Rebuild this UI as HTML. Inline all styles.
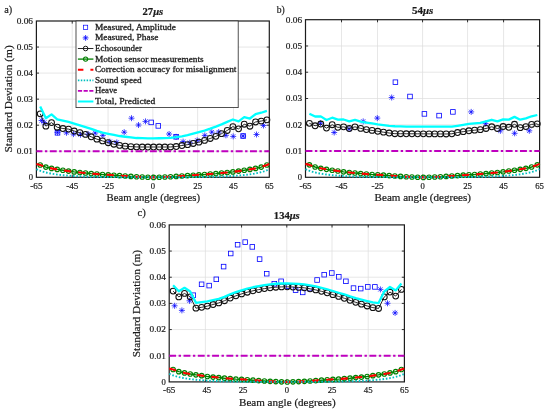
<!DOCTYPE html>
<html><head><meta charset="utf-8"><title>Standard deviation vs beam angle</title>
<style>html,body{margin:0;padding:0;background:#fff}svg{display:block}text{font-family:"Liberation Serif", "DejaVu Serif", serif;fill:#1a1a1a;stroke:#1a1a1a;stroke-width:0.2px}</style>
</head><body>
<svg width="550" height="412" viewBox="0 0 550 412">
<rect width="550" height="412" fill="#fff"/>
<rect x="36.4" y="21" width="232.9" height="156.3" fill="#fff"/>
<g stroke="#dcdcdc" stroke-width="0.7">
<line x1="72.23" y1="21" x2="72.23" y2="177.3"/>
<line x1="108.06" y1="21" x2="108.06" y2="177.3"/>
<line x1="152.85" y1="21" x2="152.85" y2="177.3"/>
<line x1="197.64" y1="21" x2="197.64" y2="177.3"/>
<line x1="233.47" y1="21" x2="233.47" y2="177.3"/>
<line x1="36.4" y1="151.25" x2="269.3" y2="151.25"/>
<line x1="36.4" y1="125.2" x2="269.3" y2="125.2"/>
<line x1="36.4" y1="99.15" x2="269.3" y2="99.15"/>
<line x1="36.4" y1="73.1" x2="269.3" y2="73.1"/>
<line x1="36.4" y1="47.05" x2="269.3" y2="47.05"/>
</g>
<g stroke="#1c1c1c" stroke-width="0.9">
<line x1="72.23" y1="21" x2="72.23" y2="23.6"/>
<line x1="72.23" y1="177.3" x2="72.23" y2="174.7"/>
<line x1="108.06" y1="21" x2="108.06" y2="23.6"/>
<line x1="108.06" y1="177.3" x2="108.06" y2="174.7"/>
<line x1="152.85" y1="21" x2="152.85" y2="23.6"/>
<line x1="152.85" y1="177.3" x2="152.85" y2="174.7"/>
<line x1="197.64" y1="21" x2="197.64" y2="23.6"/>
<line x1="197.64" y1="177.3" x2="197.64" y2="174.7"/>
<line x1="233.47" y1="21" x2="233.47" y2="23.6"/>
<line x1="233.47" y1="177.3" x2="233.47" y2="174.7"/>
<line x1="36.4" y1="151.25" x2="39" y2="151.25"/>
<line x1="269.3" y1="151.25" x2="266.7" y2="151.25"/>
<line x1="36.4" y1="125.2" x2="39" y2="125.2"/>
<line x1="269.3" y1="125.2" x2="266.7" y2="125.2"/>
<line x1="36.4" y1="99.15" x2="39" y2="99.15"/>
<line x1="269.3" y1="99.15" x2="266.7" y2="99.15"/>
<line x1="36.4" y1="73.1" x2="39" y2="73.1"/>
<line x1="269.3" y1="73.1" x2="266.7" y2="73.1"/>
<line x1="36.4" y1="47.05" x2="39" y2="47.05"/>
<line x1="269.3" y1="47.05" x2="266.7" y2="47.05"/>
</g>
<rect x="36.4" y="21" width="232.9" height="156.3" fill="none" stroke="#1c1c1c" stroke-width="1.2"/>
<g fill="none" stroke="#0000ff" stroke-width="0.8">
<rect x="55.2" y="130.5" width="4.6" height="4.6"/>
<rect x="148.9" y="120.1" width="4.6" height="4.6"/>
<rect x="156" y="123.6" width="4.6" height="4.6"/>
<rect x="173.8" y="134.5" width="4.6" height="4.6"/>
<rect x="240.8" y="133.7" width="4.6" height="4.6"/>
</g>
<g fill="none" stroke="#0000ff" stroke-width="0.72">
<path d="M38.6 120.5h6 M41.6 117.5v6 M39.48 118.38l4.24 4.24 M39.48 122.62l4.24 -4.24"/>
<path d="M41.3 122.5h6 M44.3 119.5v6 M42.18 120.38l4.24 4.24 M42.18 124.62l4.24 -4.24"/>
<path d="M54.5 132.4h6 M57.5 129.4v6 M55.38 130.28l4.24 4.24 M55.38 134.52l4.24 -4.24"/>
<path d="M63.5 132.8h6 M66.5 129.8v6 M64.38 130.68l4.24 4.24 M64.38 134.92l4.24 -4.24"/>
<path d="M70.5 134.1h6 M73.5 131.1v6 M71.38 131.98l4.24 4.24 M71.38 136.22l4.24 -4.24"/>
<path d="M77.5 134.7h6 M80.5 131.7v6 M78.38 132.58l4.24 4.24 M78.38 136.82l4.24 -4.24"/>
<path d="M85.2 134.1h6 M88.2 131.1v6 M86.08 131.98l4.24 4.24 M86.08 136.22l4.24 -4.24"/>
<path d="M92.2 133h6 M95.2 130v6 M93.08 130.88l4.24 4.24 M93.08 135.12l4.24 -4.24"/>
<path d="M99.8 135.4h6 M102.8 132.4v6 M100.68 133.28l4.24 4.24 M100.68 137.52l4.24 -4.24"/>
<path d="M106.8 141.7h6 M109.8 138.7v6 M107.68 139.58l4.24 4.24 M107.68 143.82l4.24 -4.24"/>
<path d="M113.8 142.4h6 M116.8 139.4v6 M114.68 140.28l4.24 4.24 M114.68 144.52l4.24 -4.24"/>
<path d="M121.2 132.2h6 M124.2 129.2v6 M122.08 130.08l4.24 4.24 M122.08 134.32l4.24 -4.24"/>
<path d="M128.5 118.2h6 M131.5 115.2v6 M129.38 116.08l4.24 4.24 M129.38 120.32l4.24 -4.24"/>
<path d="M135.5 125h6 M138.5 122v6 M136.38 122.88l4.24 4.24 M136.38 127.12l4.24 -4.24"/>
<path d="M142.5 121.4h6 M145.5 118.4v6 M143.38 119.28l4.24 4.24 M143.38 123.52l4.24 -4.24"/>
<path d="M166.1 134h6 M169.1 131v6 M166.98 131.88l4.24 4.24 M166.98 136.12l4.24 -4.24"/>
<path d="M173.1 136.8h6 M176.1 133.8v6 M173.98 134.68l4.24 4.24 M173.98 138.92l4.24 -4.24"/>
<path d="M180.1 141.6h6 M183.1 138.6v6 M180.98 139.48l4.24 4.24 M180.98 143.72l4.24 -4.24"/>
<path d="M186.8 142.7h6 M189.8 139.7v6 M187.68 140.58l4.24 4.24 M187.68 144.82l4.24 -4.24"/>
<path d="M194.2 140.4h6 M197.2 137.4v6 M195.08 138.28l4.24 4.24 M195.08 142.52l4.24 -4.24"/>
<path d="M201.8 135.4h6 M204.8 132.4v6 M202.68 133.28l4.24 4.24 M202.68 137.52l4.24 -4.24"/>
<path d="M208.8 132.1h6 M211.8 129.1v6 M209.68 129.98l4.24 4.24 M209.68 134.22l4.24 -4.24"/>
<path d="M215.7 132.1h6 M218.7 129.1v6 M216.58 129.98l4.24 4.24 M216.58 134.22l4.24 -4.24"/>
<path d="M222.9 135.3h6 M225.9 132.3v6 M223.78 133.18l4.24 4.24 M223.78 137.42l4.24 -4.24"/>
<path d="M230.2 136.4h6 M233.2 133.4v6 M231.08 134.28l4.24 4.24 M231.08 138.52l4.24 -4.24"/>
<path d="M240.1 136h6 M243.1 133v6 M240.98 133.88l4.24 4.24 M240.98 138.12l4.24 -4.24"/>
<path d="M253.5 134.5h6 M256.5 131.5v6 M254.38 132.38l4.24 4.24 M254.38 136.62l4.24 -4.24"/>
<path d="M260.5 125.5h6 M263.5 122.5v6 M261.38 123.38l4.24 4.24 M261.38 127.62l4.24 -4.24"/>
</g>
<polyline points="40.2,113.8 45.87,126.13 51.54,122.61 57.2,127.22 62.87,128.51 68.54,129.11 74.2,131 79.87,132.69 85.54,134.38 91.21,136.76 96.88,139.15 102.54,140.92 108.21,142.71 113.88,144.22 119.55,145.42 125.21,146.14 130.88,146.63 136.55,146.91 142.22,147 147.88,147 153.55,147 159.22,147 164.88,147 170.55,146.96 176.22,146.51 181.89,145.52 187.56,144.68 193.22,143.48 198.89,142.18 204.56,140.38 210.23,138.48 215.89,136.36 221.56,133.65 227.23,130.48 232.89,126.62 238.56,128.87 244.23,124.24 249.9,126.21 255.56,121.96 261.23,121.05 266.9,119.8" fill="none" stroke="#111" stroke-width="0.9" stroke-linejoin="round" />
<g fill="none" stroke="#111" stroke-width="1.05">
<circle cx="40.2" cy="113.8" r="2.9"/>
<circle cx="45.87" cy="126.13" r="2.9"/>
<circle cx="51.54" cy="122.61" r="2.9"/>
<circle cx="57.2" cy="127.22" r="2.9"/>
<circle cx="62.87" cy="128.51" r="2.9"/>
<circle cx="68.54" cy="129.11" r="2.9"/>
<circle cx="74.2" cy="131" r="2.9"/>
<circle cx="79.87" cy="132.69" r="2.9"/>
<circle cx="85.54" cy="134.38" r="2.9"/>
<circle cx="91.21" cy="136.76" r="2.9"/>
<circle cx="96.88" cy="139.15" r="2.9"/>
<circle cx="102.54" cy="140.92" r="2.9"/>
<circle cx="108.21" cy="142.71" r="2.9"/>
<circle cx="113.88" cy="144.22" r="2.9"/>
<circle cx="119.55" cy="145.42" r="2.9"/>
<circle cx="125.21" cy="146.14" r="2.9"/>
<circle cx="130.88" cy="146.63" r="2.9"/>
<circle cx="136.55" cy="146.91" r="2.9"/>
<circle cx="142.22" cy="147" r="2.9"/>
<circle cx="147.88" cy="147" r="2.9"/>
<circle cx="153.55" cy="147" r="2.9"/>
<circle cx="159.22" cy="147" r="2.9"/>
<circle cx="164.88" cy="147" r="2.9"/>
<circle cx="170.55" cy="146.96" r="2.9"/>
<circle cx="176.22" cy="146.51" r="2.9"/>
<circle cx="181.89" cy="145.52" r="2.9"/>
<circle cx="187.56" cy="144.68" r="2.9"/>
<circle cx="193.22" cy="143.48" r="2.9"/>
<circle cx="198.89" cy="142.18" r="2.9"/>
<circle cx="204.56" cy="140.38" r="2.9"/>
<circle cx="210.23" cy="138.48" r="2.9"/>
<circle cx="215.89" cy="136.36" r="2.9"/>
<circle cx="221.56" cy="133.65" r="2.9"/>
<circle cx="227.23" cy="130.48" r="2.9"/>
<circle cx="232.89" cy="126.62" r="2.9"/>
<circle cx="238.56" cy="128.87" r="2.9"/>
<circle cx="244.23" cy="124.24" r="2.9"/>
<circle cx="249.9" cy="126.21" r="2.9"/>
<circle cx="255.56" cy="121.96" r="2.9"/>
<circle cx="261.23" cy="121.05" r="2.9"/>
<circle cx="266.9" cy="119.8" r="2.9"/>
</g>
<polyline points="40.2,164.98 45.87,167.08 51.54,168.38 57.2,169.38 62.87,170.29 68.54,171.09 74.2,171.89 79.87,172.49 85.54,172.99 91.21,173.59 96.88,173.99 102.54,174.49 108.21,174.8 113.88,175.2 119.55,175.6 125.21,176 130.88,176.4 136.55,176.75 142.22,177 147.88,177.2 153.55,177.4 159.22,177.2 164.88,177 170.55,176.75 176.22,176.4 181.89,176 187.56,175.6 193.22,175.2 198.89,174.8 204.56,174.49 210.23,173.99 215.89,173.59 221.56,172.99 227.23,172.49 232.89,171.89 238.56,171.09 244.23,170.29 249.9,169.38 255.56,168.38 261.23,167.08 266.9,164.98" fill="none" stroke="#008000" stroke-width="1.4" stroke-linejoin="round" />
<g fill="none" stroke="#008000" stroke-width="1.15">
<circle cx="40.2" cy="164.98" r="2.25"/>
<circle cx="45.87" cy="167.08" r="2.25"/>
<circle cx="51.54" cy="168.38" r="2.25"/>
<circle cx="57.2" cy="169.38" r="2.25"/>
<circle cx="62.87" cy="170.29" r="2.25"/>
<circle cx="68.54" cy="171.09" r="2.25"/>
<circle cx="74.2" cy="171.89" r="2.25"/>
<circle cx="79.87" cy="172.49" r="2.25"/>
<circle cx="85.54" cy="172.99" r="2.25"/>
<circle cx="91.21" cy="173.59" r="2.25"/>
<circle cx="96.88" cy="173.99" r="2.25"/>
<circle cx="102.54" cy="174.49" r="2.25"/>
<circle cx="108.21" cy="174.8" r="2.25"/>
<circle cx="113.88" cy="175.2" r="2.25"/>
<circle cx="119.55" cy="175.6" r="2.25"/>
<circle cx="125.21" cy="176" r="2.25"/>
<circle cx="130.88" cy="176.4" r="2.25"/>
<circle cx="136.55" cy="176.75" r="2.25"/>
<circle cx="142.22" cy="177" r="2.25"/>
<circle cx="147.88" cy="177.2" r="2.25"/>
<circle cx="153.55" cy="177.4" r="2.25"/>
<circle cx="159.22" cy="177.2" r="2.25"/>
<circle cx="164.88" cy="177" r="2.25"/>
<circle cx="170.55" cy="176.75" r="2.25"/>
<circle cx="176.22" cy="176.4" r="2.25"/>
<circle cx="181.89" cy="176" r="2.25"/>
<circle cx="187.56" cy="175.6" r="2.25"/>
<circle cx="193.22" cy="175.2" r="2.25"/>
<circle cx="198.89" cy="174.8" r="2.25"/>
<circle cx="204.56" cy="174.49" r="2.25"/>
<circle cx="210.23" cy="173.99" r="2.25"/>
<circle cx="215.89" cy="173.59" r="2.25"/>
<circle cx="221.56" cy="172.99" r="2.25"/>
<circle cx="227.23" cy="172.49" r="2.25"/>
<circle cx="232.89" cy="171.89" r="2.25"/>
<circle cx="238.56" cy="171.09" r="2.25"/>
<circle cx="244.23" cy="170.29" r="2.25"/>
<circle cx="249.9" cy="169.38" r="2.25"/>
<circle cx="255.56" cy="168.38" r="2.25"/>
<circle cx="261.23" cy="167.08" r="2.25"/>
<circle cx="266.9" cy="164.98" r="2.25"/>
</g>
<polyline points="36.4,163.97 40.2,164.98 45.87,167.08 51.54,168.38 57.2,169.38 62.87,170.29 68.54,171.09 74.2,171.89 79.87,172.49 85.54,172.99 91.21,173.59 96.88,173.99 102.54,174.49 108.21,174.8 113.88,175.2 119.55,175.6 125.21,176 130.88,176.4 136.55,176.75 142.22,177 147.88,177.2 153.55,177.4 159.22,177.2 164.88,177 170.55,176.75 176.22,176.4 181.89,176 187.56,175.6 193.22,175.2 198.89,174.8 204.56,174.49 210.23,173.99 215.89,173.59 221.56,172.99 227.23,172.49 232.89,171.89 238.56,171.09 244.23,170.29 249.9,169.38 255.56,168.38 261.23,167.08 266.9,164.98 269.3,163.97" fill="none" stroke="#ff0000" stroke-width="2.1" stroke-dasharray="7.2 7.05" stroke-linejoin="round" />
<polyline points="36.4,169.18 38.19,169.98 39.98,170.68 41.77,171.3 43.57,171.85 45.36,172.33 47.15,172.77 48.94,173.16 50.73,173.51 52.52,173.83 54.32,174.11 56.11,174.37 57.9,174.61 59.69,174.82 61.48,175.02 63.27,175.2 65.06,175.36 66.86,175.51 68.65,175.65 70.44,175.78 72.23,175.9 74.02,176 75.81,176.1 77.61,176.2 79.4,176.28 81.19,176.36 82.98,176.44 84.77,176.5 86.56,176.57 88.35,176.63 90.15,176.68 91.94,176.73 93.73,176.78 95.52,176.82 97.31,176.87 99.1,176.9 100.9,176.94 102.69,176.97 104.48,177 106.27,177.03 108.06,177.06 109.85,177.08 111.64,177.1 113.44,177.13 115.23,177.14 117.02,177.16 118.81,177.18 120.6,177.19 122.39,177.21 124.19,177.22 125.98,177.23 127.77,177.24 129.56,177.25 131.35,177.26 133.14,177.27 134.93,177.27 136.73,177.28 138.52,177.28 140.31,177.29 142.1,177.29 143.89,177.29 145.68,177.3 147.48,177.3 149.27,177.3 151.06,177.3 152.85,177.3 154.64,177.3 156.43,177.3 158.22,177.3 160.02,177.3 161.81,177.29 163.6,177.29 165.39,177.29 167.18,177.28 168.97,177.28 170.77,177.27 172.56,177.27 174.35,177.26 176.14,177.25 177.93,177.24 179.72,177.23 181.51,177.22 183.31,177.21 185.1,177.19 186.89,177.18 188.68,177.16 190.47,177.14 192.26,177.13 194.06,177.1 195.85,177.08 197.64,177.06 199.43,177.03 201.22,177 203.01,176.97 204.8,176.94 206.6,176.9 208.39,176.87 210.18,176.82 211.97,176.78 213.76,176.73 215.55,176.68 217.35,176.63 219.14,176.57 220.93,176.5 222.72,176.44 224.51,176.36 226.3,176.28 228.09,176.2 229.89,176.1 231.68,176 233.47,175.9 235.26,175.78 237.05,175.65 238.84,175.51 240.64,175.36 242.43,175.2 244.22,175.02 246.01,174.82 247.8,174.61 249.59,174.37 251.38,174.11 253.18,173.83 254.97,173.51 256.76,173.16 258.55,172.77 260.34,172.33 262.13,171.85 263.93,171.3 265.72,170.68 267.51,169.98 269.3,169.18" fill="none" stroke="#00bfbf" stroke-width="1.9" stroke-dasharray="1.6 1.8" stroke-linejoin="round" />
<polyline points="36.4,151.25 269.3,151.25" fill="none" stroke="#bf00bf" stroke-width="2.0" stroke-dasharray="6.9 2.5 2.4 2.5" stroke-linejoin="round" stroke-dashoffset="0.9"/>
<polyline points="40.2,106.5 45.87,118.23 51.54,114.35 57.2,119.42 62.87,120.74 68.54,121.94 74.2,123.66 79.87,125.38 85.54,127.11 91.21,128.84 96.88,130.95 102.54,132.55 108.21,133.76 113.88,134.9 119.55,136.01 125.21,136.76 130.88,137.43 136.55,138.02 142.22,138.16 147.88,138.3 153.55,138.36 159.22,138.23 164.88,138.1 170.55,137.83 176.22,137.21 181.89,136.39 187.56,135.14 193.22,133.66 198.89,132.14 204.56,130.57 210.23,128.7 215.89,126.64 221.56,124.36 227.23,121.87 232.89,119.48 238.56,121.41 244.23,117.09 249.9,118.51 255.56,114.23 261.23,112.73 266.9,110.9" fill="none" stroke="#00ffff" stroke-width="2.3" stroke-linejoin="round" />
<text x="33" y="180.2" font-size="9.2" text-anchor="end" textLength="4.3" lengthAdjust="spacingAndGlyphs" >0</text>
<text x="33" y="154.15" font-size="9.2" text-anchor="end" textLength="16.3" lengthAdjust="spacingAndGlyphs" >0.01</text>
<text x="33" y="128.1" font-size="9.2" text-anchor="end" textLength="16.3" lengthAdjust="spacingAndGlyphs" >0.02</text>
<text x="33" y="102.05" font-size="9.2" text-anchor="end" textLength="16.3" lengthAdjust="spacingAndGlyphs" >0.03</text>
<text x="33" y="76" font-size="9.2" text-anchor="end" textLength="16.3" lengthAdjust="spacingAndGlyphs" >0.04</text>
<text x="33" y="49.95" font-size="9.2" text-anchor="end" textLength="16.3" lengthAdjust="spacingAndGlyphs" >0.05</text>
<text x="33" y="23.9" font-size="9.2" text-anchor="end" textLength="16.3" lengthAdjust="spacingAndGlyphs" >0.06</text>
<text x="36.4" y="189" font-size="9.2" text-anchor="middle" textLength="12.2" lengthAdjust="spacingAndGlyphs" >-65</text>
<text x="72.23" y="189" font-size="9.2" text-anchor="middle" textLength="12.2" lengthAdjust="spacingAndGlyphs" >-45</text>
<text x="108.06" y="189" font-size="9.2" text-anchor="middle" textLength="12.2" lengthAdjust="spacingAndGlyphs" >-25</text>
<text x="152.85" y="189" font-size="9.2" text-anchor="middle" textLength="4.3" lengthAdjust="spacingAndGlyphs" >0</text>
<text x="197.64" y="189" font-size="9.2" text-anchor="middle" textLength="8.8" lengthAdjust="spacingAndGlyphs" >25</text>
<text x="233.47" y="189" font-size="9.2" text-anchor="middle" textLength="8.8" lengthAdjust="spacingAndGlyphs" >45</text>
<text x="269.3" y="189" font-size="9.2" text-anchor="middle" textLength="8.8" lengthAdjust="spacingAndGlyphs" >65</text>
<rect x="76" y="21" width="162.2" height="86.6" fill="#fff" stroke="#262626" stroke-width="0.8"/>
<g fill="none" stroke="#0000ff" stroke-width="0.7">
<rect x="83.5" y="25.2" width="4.2" height="4.2"/>
</g>
<g fill="none" stroke="#0000ff" stroke-width="0.8">
<path d="M82.7 37.9h5.8 M85.6 35v5.8 M83.55 35.85l4.1 4.1 M83.55 39.95l4.1 -4.1"/>
</g>
<polyline points="77.9,48.5 93.4,48.5" fill="none" stroke="#111" stroke-width="0.9" stroke-linejoin="round" />
<circle cx="85.6" cy="48.5" r="2.3" fill="none" stroke="#111" stroke-width="0.95"/>
<polyline points="77.9,59.1 93.4,59.1" fill="none" stroke="#008000" stroke-width="1.3" stroke-linejoin="round" />
<circle cx="85.6" cy="59.1" r="2.1" fill="none" stroke="#008000" stroke-width="1.1"/>
<polyline points="77.9,69.7 93.4,69.7" fill="none" stroke="#ff0000" stroke-width="2.0" stroke-dasharray="5.5 7" stroke-linejoin="round" />
<polyline points="77.9,80.3 93.4,80.3" fill="none" stroke="#00bfbf" stroke-width="1.8" stroke-dasharray="1.5 1.4" stroke-linejoin="round" />
<polyline points="77.9,90.9 93.4,90.9" fill="none" stroke="#bf00bf" stroke-width="1.8" stroke-dasharray="4.2 1.5" stroke-linejoin="round" />
<polyline points="77.9,101.5 93.4,101.5" fill="none" stroke="#00ffff" stroke-width="2.0" stroke-linejoin="round" />
<text x="94.9" y="29.75" font-size="8.8" textLength="81" lengthAdjust="spacingAndGlyphs" style="stroke-width:0.28px">Measured, Amplitude</text>
<text x="94.9" y="40.35" font-size="8.8" textLength="63.6" lengthAdjust="spacingAndGlyphs" style="stroke-width:0.28px">Measured, Phase</text>
<text x="94.9" y="50.95" font-size="8.8" textLength="47.2" lengthAdjust="spacingAndGlyphs" style="stroke-width:0.28px">Echosounder</text>
<text x="94.9" y="61.55" font-size="8.8" textLength="108.8" lengthAdjust="spacingAndGlyphs" style="stroke-width:0.28px">Motion sensor measurements</text>
<text x="94.9" y="72.15" font-size="8.8" textLength="141.5" lengthAdjust="spacingAndGlyphs" style="stroke-width:0.28px">Correction accuracy for misalignment</text>
<text x="94.9" y="82.75" font-size="8.8" textLength="46.8" lengthAdjust="spacingAndGlyphs" style="stroke-width:0.28px">Sound speed</text>
<text x="94.9" y="93.35" font-size="8.8" textLength="22.2" lengthAdjust="spacingAndGlyphs" style="stroke-width:0.28px">Heave</text>
<text x="94.9" y="103.95" font-size="8.8" textLength="60.5" lengthAdjust="spacingAndGlyphs" style="stroke-width:0.28px">Total, Predicted</text>
<text x="152.9" y="15.3" font-size="10" font-weight="bold" text-anchor="middle" textLength="20.7" lengthAdjust="spacingAndGlyphs">27<tspan font-style="italic">μs</tspan></text>
<text x="422.6" y="14.0" font-size="10" font-weight="bold" text-anchor="middle" textLength="21.3" lengthAdjust="spacingAndGlyphs">54<tspan font-style="italic">μs</tspan></text>
<text x="286.8" y="219.4" font-size="10" font-weight="bold" text-anchor="middle" textLength="25.9" lengthAdjust="spacingAndGlyphs">134<tspan font-style="italic">μs</tspan></text>
<text x="4.2" y="12.7" font-size="10.5" textLength="8" lengthAdjust="spacingAndGlyphs" >a)</text>
<text x="276.8" y="12.7" font-size="10.5" textLength="8" lengthAdjust="spacingAndGlyphs" >b)</text>
<text x="137.6" y="216.2" font-size="10.5" textLength="8.3" lengthAdjust="spacingAndGlyphs" >c)</text>
<text x="153.3" y="200.6" font-size="10.1" text-anchor="middle" textLength="93.4" lengthAdjust="spacingAndGlyphs" >Beam angle (degrees)</text>
<text x="422.8" y="201.3" font-size="10.1" text-anchor="middle" textLength="96.4" lengthAdjust="spacingAndGlyphs" >Beam angle (degrees)</text>
<text x="287.3" y="406.3" font-size="10.1" text-anchor="middle" textLength="96.6" lengthAdjust="spacingAndGlyphs" >Beam angle (degrees)</text>
<text transform="translate(11.6,98.9) rotate(-90)" font-size="10.2" text-anchor="middle" textLength="107.3" lengthAdjust="spacingAndGlyphs">Standard Deviation (m)</text>
<text transform="translate(140.2,303.6) rotate(-90)" font-size="10.2" text-anchor="middle" textLength="107.4" lengthAdjust="spacingAndGlyphs">Standard Deviation (m)</text>
<rect x="305.5" y="19.7" width="234.1" height="157.6" fill="#fff"/>
<g stroke="#dcdcdc" stroke-width="0.7">
<line x1="341.52" y1="19.7" x2="341.52" y2="177.3"/>
<line x1="377.53" y1="19.7" x2="377.53" y2="177.3"/>
<line x1="422.55" y1="19.7" x2="422.55" y2="177.3"/>
<line x1="467.57" y1="19.7" x2="467.57" y2="177.3"/>
<line x1="503.58" y1="19.7" x2="503.58" y2="177.3"/>
<line x1="305.5" y1="151.03" x2="539.6" y2="151.03"/>
<line x1="305.5" y1="124.77" x2="539.6" y2="124.77"/>
<line x1="305.5" y1="98.5" x2="539.6" y2="98.5"/>
<line x1="305.5" y1="72.23" x2="539.6" y2="72.23"/>
<line x1="305.5" y1="45.97" x2="539.6" y2="45.97"/>
</g>
<g stroke="#1c1c1c" stroke-width="0.9">
<line x1="341.52" y1="19.7" x2="341.52" y2="22.3"/>
<line x1="341.52" y1="177.3" x2="341.52" y2="174.7"/>
<line x1="377.53" y1="19.7" x2="377.53" y2="22.3"/>
<line x1="377.53" y1="177.3" x2="377.53" y2="174.7"/>
<line x1="422.55" y1="19.7" x2="422.55" y2="22.3"/>
<line x1="422.55" y1="177.3" x2="422.55" y2="174.7"/>
<line x1="467.57" y1="19.7" x2="467.57" y2="22.3"/>
<line x1="467.57" y1="177.3" x2="467.57" y2="174.7"/>
<line x1="503.58" y1="19.7" x2="503.58" y2="22.3"/>
<line x1="503.58" y1="177.3" x2="503.58" y2="174.7"/>
<line x1="305.5" y1="151.03" x2="308.1" y2="151.03"/>
<line x1="539.6" y1="151.03" x2="537" y2="151.03"/>
<line x1="305.5" y1="124.77" x2="308.1" y2="124.77"/>
<line x1="539.6" y1="124.77" x2="537" y2="124.77"/>
<line x1="305.5" y1="98.5" x2="308.1" y2="98.5"/>
<line x1="539.6" y1="98.5" x2="537" y2="98.5"/>
<line x1="305.5" y1="72.23" x2="308.1" y2="72.23"/>
<line x1="539.6" y1="72.23" x2="537" y2="72.23"/>
<line x1="305.5" y1="45.97" x2="308.1" y2="45.97"/>
<line x1="539.6" y1="45.97" x2="537" y2="45.97"/>
</g>
<rect x="305.5" y="19.7" width="234.1" height="157.6" fill="none" stroke="#1c1c1c" stroke-width="1.2"/>
<g fill="none" stroke="#0000ff" stroke-width="0.8">
<rect x="393.1" y="79.9" width="4.6" height="4.6"/>
<rect x="407.7" y="94.2" width="4.6" height="4.6"/>
<rect x="422.1" y="111.6" width="4.6" height="4.6"/>
<rect x="436.8" y="113.3" width="4.6" height="4.6"/>
<rect x="450.6" y="109.6" width="4.6" height="4.6"/>
</g>
<g fill="none" stroke="#0000ff" stroke-width="0.72">
<path d="M317.5 123.3h6 M320.5 120.3v6 M318.38 121.18l4.24 4.24 M318.38 125.42l4.24 -4.24"/>
<path d="M331.2 132.5h6 M334.2 129.5v6 M332.08 130.38l4.24 4.24 M332.08 134.62l4.24 -4.24"/>
<path d="M346.1 129h6 M349.1 126v6 M346.98 126.88l4.24 4.24 M346.98 131.12l4.24 -4.24"/>
<path d="M360.2 121.4h6 M363.2 118.4v6 M361.08 119.28l4.24 4.24 M361.08 123.52l4.24 -4.24"/>
<path d="M374.3 118.1h6 M377.3 115.1v6 M375.18 115.98l4.24 4.24 M375.18 120.22l4.24 -4.24"/>
<path d="M388.7 97.5h6 M391.7 94.5v6 M389.58 95.38l4.24 4.24 M389.58 99.62l4.24 -4.24"/>
<path d="M468.2 111.9h6 M471.2 108.9v6 M469.08 109.78l4.24 4.24 M469.08 114.02l4.24 -4.24"/>
<path d="M482.6 123.6h6 M485.6 120.6v6 M483.48 121.48l4.24 4.24 M483.48 125.72l4.24 -4.24"/>
<path d="M497.4 130.8h6 M500.4 127.8v6 M498.28 128.68l4.24 4.24 M498.28 132.92l4.24 -4.24"/>
<path d="M511.6 133.3h6 M514.6 130.3v6 M512.48 131.18l4.24 4.24 M512.48 135.42l4.24 -4.24"/>
<path d="M526.3 130.8h6 M529.3 127.8v6 M527.18 128.68l4.24 4.24 M527.18 132.92l4.24 -4.24"/>
</g>
<polyline points="309.4,123.3 315.1,125.76 320.79,124.03 326.49,128.11 332.19,124.74 337.89,127.36 343.58,126.85 349.28,128.54 354.98,126.81 360.68,128.39 366.38,129.61 372.07,130.45 377.77,131.28 383.47,132.19 389.16,133 394.86,133.7 400.56,133.73 406.26,133.76 411.95,133.79 417.65,133.82 423.35,133.85 429.05,133.88 434.74,133.91 440.44,133.94 446.14,133.97 451.84,133.8 457.53,132.52 463.23,131.65 468.93,130.79 474.63,130.19 480.32,129.63 486.02,128.49 491.72,126.77 497.42,128.52 503.11,126.53 508.81,127.28 514.51,124.27 520.21,127.68 525.9,126.58 531.6,124.39 537.3,123.8" fill="none" stroke="#111" stroke-width="0.9" stroke-linejoin="round" />
<g fill="none" stroke="#111" stroke-width="1.05">
<circle cx="309.4" cy="123.3" r="2.9"/>
<circle cx="315.1" cy="125.76" r="2.9"/>
<circle cx="320.79" cy="124.03" r="2.9"/>
<circle cx="326.49" cy="128.11" r="2.9"/>
<circle cx="332.19" cy="124.74" r="2.9"/>
<circle cx="337.89" cy="127.36" r="2.9"/>
<circle cx="343.58" cy="126.85" r="2.9"/>
<circle cx="349.28" cy="128.54" r="2.9"/>
<circle cx="354.98" cy="126.81" r="2.9"/>
<circle cx="360.68" cy="128.39" r="2.9"/>
<circle cx="366.38" cy="129.61" r="2.9"/>
<circle cx="372.07" cy="130.45" r="2.9"/>
<circle cx="377.77" cy="131.28" r="2.9"/>
<circle cx="383.47" cy="132.19" r="2.9"/>
<circle cx="389.16" cy="133" r="2.9"/>
<circle cx="394.86" cy="133.7" r="2.9"/>
<circle cx="400.56" cy="133.73" r="2.9"/>
<circle cx="406.26" cy="133.76" r="2.9"/>
<circle cx="411.95" cy="133.79" r="2.9"/>
<circle cx="417.65" cy="133.82" r="2.9"/>
<circle cx="423.35" cy="133.85" r="2.9"/>
<circle cx="429.05" cy="133.88" r="2.9"/>
<circle cx="434.74" cy="133.91" r="2.9"/>
<circle cx="440.44" cy="133.94" r="2.9"/>
<circle cx="446.14" cy="133.97" r="2.9"/>
<circle cx="451.84" cy="133.8" r="2.9"/>
<circle cx="457.53" cy="132.52" r="2.9"/>
<circle cx="463.23" cy="131.65" r="2.9"/>
<circle cx="468.93" cy="130.79" r="2.9"/>
<circle cx="474.63" cy="130.19" r="2.9"/>
<circle cx="480.32" cy="129.63" r="2.9"/>
<circle cx="486.02" cy="128.49" r="2.9"/>
<circle cx="491.72" cy="126.77" r="2.9"/>
<circle cx="497.42" cy="128.52" r="2.9"/>
<circle cx="503.11" cy="126.53" r="2.9"/>
<circle cx="508.81" cy="127.28" r="2.9"/>
<circle cx="514.51" cy="124.27" r="2.9"/>
<circle cx="520.21" cy="127.68" r="2.9"/>
<circle cx="525.9" cy="126.58" r="2.9"/>
<circle cx="531.6" cy="124.39" r="2.9"/>
<circle cx="537.3" cy="123.8" r="2.9"/>
</g>
<polyline points="309.4,164.87 315.1,167 320.79,168.31 326.49,169.32 332.19,170.23 337.89,171.04 343.58,171.84 349.28,172.45 354.98,172.96 360.68,173.56 366.38,173.97 372.07,174.47 377.77,174.77 383.47,175.18 389.16,175.58 394.86,175.99 400.56,176.39 406.26,176.74 411.95,177 417.65,177.2 423.35,177.4 429.05,177.2 434.74,177 440.44,176.74 446.14,176.39 451.84,175.99 457.53,175.58 463.23,175.18 468.93,174.77 474.63,174.47 480.32,173.97 486.02,173.56 491.72,172.96 497.42,172.45 503.11,171.84 508.81,171.04 514.51,170.23 520.21,169.32 525.9,168.31 531.6,167 537.3,164.87" fill="none" stroke="#008000" stroke-width="1.4" stroke-linejoin="round" />
<g fill="none" stroke="#008000" stroke-width="1.15">
<circle cx="309.4" cy="164.87" r="2.25"/>
<circle cx="315.1" cy="167" r="2.25"/>
<circle cx="320.79" cy="168.31" r="2.25"/>
<circle cx="326.49" cy="169.32" r="2.25"/>
<circle cx="332.19" cy="170.23" r="2.25"/>
<circle cx="337.89" cy="171.04" r="2.25"/>
<circle cx="343.58" cy="171.84" r="2.25"/>
<circle cx="349.28" cy="172.45" r="2.25"/>
<circle cx="354.98" cy="172.96" r="2.25"/>
<circle cx="360.68" cy="173.56" r="2.25"/>
<circle cx="366.38" cy="173.97" r="2.25"/>
<circle cx="372.07" cy="174.47" r="2.25"/>
<circle cx="377.77" cy="174.77" r="2.25"/>
<circle cx="383.47" cy="175.18" r="2.25"/>
<circle cx="389.16" cy="175.58" r="2.25"/>
<circle cx="394.86" cy="175.99" r="2.25"/>
<circle cx="400.56" cy="176.39" r="2.25"/>
<circle cx="406.26" cy="176.74" r="2.25"/>
<circle cx="411.95" cy="177" r="2.25"/>
<circle cx="417.65" cy="177.2" r="2.25"/>
<circle cx="423.35" cy="177.4" r="2.25"/>
<circle cx="429.05" cy="177.2" r="2.25"/>
<circle cx="434.74" cy="177" r="2.25"/>
<circle cx="440.44" cy="176.74" r="2.25"/>
<circle cx="446.14" cy="176.39" r="2.25"/>
<circle cx="451.84" cy="175.99" r="2.25"/>
<circle cx="457.53" cy="175.58" r="2.25"/>
<circle cx="463.23" cy="175.18" r="2.25"/>
<circle cx="468.93" cy="174.77" r="2.25"/>
<circle cx="474.63" cy="174.47" r="2.25"/>
<circle cx="480.32" cy="173.97" r="2.25"/>
<circle cx="486.02" cy="173.56" r="2.25"/>
<circle cx="491.72" cy="172.96" r="2.25"/>
<circle cx="497.42" cy="172.45" r="2.25"/>
<circle cx="503.11" cy="171.84" r="2.25"/>
<circle cx="508.81" cy="171.04" r="2.25"/>
<circle cx="514.51" cy="170.23" r="2.25"/>
<circle cx="520.21" cy="169.32" r="2.25"/>
<circle cx="525.9" cy="168.31" r="2.25"/>
<circle cx="531.6" cy="167" r="2.25"/>
<circle cx="537.3" cy="164.87" r="2.25"/>
</g>
<polyline points="305.5,163.86 309.4,164.87 315.1,167 320.79,168.31 326.49,169.32 332.19,170.23 337.89,171.04 343.58,171.84 349.28,172.45 354.98,172.96 360.68,173.56 366.38,173.97 372.07,174.47 377.77,174.77 383.47,175.18 389.16,175.58 394.86,175.99 400.56,176.39 406.26,176.74 411.95,177 417.65,177.2 423.35,177.4 429.05,177.2 434.74,177 440.44,176.74 446.14,176.39 451.84,175.99 457.53,175.58 463.23,175.18 468.93,174.77 474.63,174.47 480.32,173.97 486.02,173.56 491.72,172.96 497.42,172.45 503.11,171.84 508.81,171.04 514.51,170.23 520.21,169.32 525.9,168.31 531.6,167 537.3,164.87 539.6,163.86" fill="none" stroke="#ff0000" stroke-width="2.1" stroke-dasharray="7.2 7.13" stroke-linejoin="round" />
<polyline points="305.5,169.12 307.3,169.92 309.1,170.63 310.9,171.25 312.7,171.8 314.5,172.29 316.3,172.73 318.11,173.13 319.91,173.48 321.71,173.8 323.51,174.09 325.31,174.35 327.11,174.59 328.91,174.8 330.71,175 332.51,175.18 334.31,175.35 336.11,175.5 337.91,175.64 339.71,175.77 341.52,175.88 343.32,175.99 345.12,176.09 346.92,176.19 348.72,176.27 350.52,176.35 352.32,176.43 354.12,176.5 355.92,176.56 357.72,176.62 359.52,176.68 361.32,176.73 363.12,176.78 364.93,176.82 366.73,176.86 368.53,176.9 370.33,176.94 372.13,176.97 373.93,177 375.73,177.03 377.53,177.06 379.33,177.08 381.13,177.1 382.93,177.12 384.73,177.14 386.53,177.16 388.34,177.18 390.14,177.19 391.94,177.21 393.74,177.22 395.54,177.23 397.34,177.24 399.14,177.25 400.94,177.26 402.74,177.27 404.54,177.27 406.34,177.28 408.14,177.28 409.94,177.29 411.75,177.29 413.55,177.29 415.35,177.3 417.15,177.3 418.95,177.3 420.75,177.3 422.55,177.3 424.35,177.3 426.15,177.3 427.95,177.3 429.75,177.3 431.55,177.29 433.35,177.29 435.16,177.29 436.96,177.28 438.76,177.28 440.56,177.27 442.36,177.27 444.16,177.26 445.96,177.25 447.76,177.24 449.56,177.23 451.36,177.22 453.16,177.21 454.96,177.19 456.76,177.18 458.57,177.16 460.37,177.14 462.17,177.12 463.97,177.1 465.77,177.08 467.57,177.06 469.37,177.03 471.17,177 472.97,176.97 474.77,176.94 476.57,176.9 478.37,176.86 480.17,176.82 481.98,176.78 483.78,176.73 485.58,176.68 487.38,176.62 489.18,176.56 490.98,176.5 492.78,176.43 494.58,176.35 496.38,176.27 498.18,176.19 499.98,176.09 501.78,175.99 503.58,175.88 505.39,175.77 507.19,175.64 508.99,175.5 510.79,175.35 512.59,175.18 514.39,175 516.19,174.8 517.99,174.59 519.79,174.35 521.59,174.09 523.39,173.8 525.19,173.48 526.99,173.13 528.8,172.73 530.6,172.29 532.4,171.8 534.2,171.25 536,170.63 537.8,169.92 539.6,169.12" fill="none" stroke="#00bfbf" stroke-width="1.9" stroke-dasharray="1.6 1.8" stroke-linejoin="round" />
<polyline points="305.5,151.03 539.6,151.03" fill="none" stroke="#bf00bf" stroke-width="2.0" stroke-dasharray="6.9 2.5 2.4 2.5" stroke-linejoin="round" stroke-dashoffset="0"/>
<polyline points="309.4,113.7 315.1,116.49 320.79,116.4 326.49,119.97 332.19,117.71 337.89,119.68 343.58,119.47 349.28,121.34 354.98,119.83 360.68,121.66 366.38,122.52 372.07,123.45 377.77,124.36 383.47,125.09 389.16,125.81 394.86,126.27 400.56,126.43 406.26,126.59 411.95,126.7 417.65,126.7 423.35,126.7 429.05,126.7 434.74,126.7 440.44,126.7 446.14,126.7 451.84,126.7 457.53,125.81 463.23,124.85 468.93,123.9 474.63,123.36 480.32,122.81 486.02,121.31 491.72,119.77 497.42,121.32 503.11,119.32 508.81,119.59 514.51,116.86 520.21,119.68 525.9,118.39 531.6,116.28 537.3,115" fill="none" stroke="#00ffff" stroke-width="2.3" stroke-linejoin="round" />
<text x="302.1" y="180.2" font-size="9.2" text-anchor="end" textLength="4.3" lengthAdjust="spacingAndGlyphs" >0</text>
<text x="302.1" y="153.93" font-size="9.2" text-anchor="end" textLength="16.3" lengthAdjust="spacingAndGlyphs" >0.01</text>
<text x="302.1" y="127.67" font-size="9.2" text-anchor="end" textLength="16.3" lengthAdjust="spacingAndGlyphs" >0.02</text>
<text x="302.1" y="101.4" font-size="9.2" text-anchor="end" textLength="16.3" lengthAdjust="spacingAndGlyphs" >0.03</text>
<text x="302.1" y="75.13" font-size="9.2" text-anchor="end" textLength="16.3" lengthAdjust="spacingAndGlyphs" >0.04</text>
<text x="302.1" y="48.87" font-size="9.2" text-anchor="end" textLength="16.3" lengthAdjust="spacingAndGlyphs" >0.05</text>
<text x="302.1" y="22.6" font-size="9.2" text-anchor="end" textLength="16.3" lengthAdjust="spacingAndGlyphs" >0.06</text>
<text x="305.5" y="188.7" font-size="9.2" text-anchor="middle" textLength="12.2" lengthAdjust="spacingAndGlyphs" >-65</text>
<text x="341.52" y="188.7" font-size="9.2" text-anchor="middle" textLength="12.2" lengthAdjust="spacingAndGlyphs" >-45</text>
<text x="377.53" y="188.7" font-size="9.2" text-anchor="middle" textLength="12.2" lengthAdjust="spacingAndGlyphs" >-25</text>
<text x="422.55" y="188.7" font-size="9.2" text-anchor="middle" textLength="4.3" lengthAdjust="spacingAndGlyphs" >0</text>
<text x="467.57" y="188.7" font-size="9.2" text-anchor="middle" textLength="8.8" lengthAdjust="spacingAndGlyphs" >25</text>
<text x="503.58" y="188.7" font-size="9.2" text-anchor="middle" textLength="8.8" lengthAdjust="spacingAndGlyphs" >45</text>
<text x="539.6" y="188.7" font-size="9.2" text-anchor="middle" textLength="8.8" lengthAdjust="spacingAndGlyphs" >65</text>
<rect x="169.2" y="224.9" width="235.2" height="157" fill="#fff"/>
<g stroke="#dcdcdc" stroke-width="0.7">
<line x1="205.38" y1="224.9" x2="205.38" y2="381.9"/>
<line x1="241.57" y1="224.9" x2="241.57" y2="381.9"/>
<line x1="286.8" y1="224.9" x2="286.8" y2="381.9"/>
<line x1="332.03" y1="224.9" x2="332.03" y2="381.9"/>
<line x1="368.22" y1="224.9" x2="368.22" y2="381.9"/>
<line x1="169.2" y1="355.73" x2="404.4" y2="355.73"/>
<line x1="169.2" y1="329.57" x2="404.4" y2="329.57"/>
<line x1="169.2" y1="303.4" x2="404.4" y2="303.4"/>
<line x1="169.2" y1="277.23" x2="404.4" y2="277.23"/>
<line x1="169.2" y1="251.07" x2="404.4" y2="251.07"/>
</g>
<g stroke="#1c1c1c" stroke-width="0.9">
<line x1="205.38" y1="224.9" x2="205.38" y2="227.5"/>
<line x1="205.38" y1="381.9" x2="205.38" y2="379.3"/>
<line x1="241.57" y1="224.9" x2="241.57" y2="227.5"/>
<line x1="241.57" y1="381.9" x2="241.57" y2="379.3"/>
<line x1="286.8" y1="224.9" x2="286.8" y2="227.5"/>
<line x1="286.8" y1="381.9" x2="286.8" y2="379.3"/>
<line x1="332.03" y1="224.9" x2="332.03" y2="227.5"/>
<line x1="332.03" y1="381.9" x2="332.03" y2="379.3"/>
<line x1="368.22" y1="224.9" x2="368.22" y2="227.5"/>
<line x1="368.22" y1="381.9" x2="368.22" y2="379.3"/>
<line x1="169.2" y1="355.73" x2="171.8" y2="355.73"/>
<line x1="404.4" y1="355.73" x2="401.8" y2="355.73"/>
<line x1="169.2" y1="329.57" x2="171.8" y2="329.57"/>
<line x1="404.4" y1="329.57" x2="401.8" y2="329.57"/>
<line x1="169.2" y1="303.4" x2="171.8" y2="303.4"/>
<line x1="404.4" y1="303.4" x2="401.8" y2="303.4"/>
<line x1="169.2" y1="277.23" x2="171.8" y2="277.23"/>
<line x1="404.4" y1="277.23" x2="401.8" y2="277.23"/>
<line x1="169.2" y1="251.07" x2="171.8" y2="251.07"/>
<line x1="404.4" y1="251.07" x2="401.8" y2="251.07"/>
</g>
<rect x="169.2" y="224.9" width="235.2" height="157" fill="none" stroke="#1c1c1c" stroke-width="1.2"/>
<g fill="none" stroke="#0000ff" stroke-width="0.8">
<rect x="191" y="292.9" width="4.6" height="4.6"/>
<rect x="199.3" y="282" width="4.6" height="4.6"/>
<rect x="206.9" y="283.3" width="4.6" height="4.6"/>
<rect x="214" y="277" width="4.6" height="4.6"/>
<rect x="221.3" y="264.3" width="4.6" height="4.6"/>
<rect x="228.4" y="251.2" width="4.6" height="4.6"/>
<rect x="235.3" y="242.4" width="4.6" height="4.6"/>
<rect x="242.9" y="239.8" width="4.6" height="4.6"/>
<rect x="250" y="244.6" width="4.6" height="4.6"/>
<rect x="257.3" y="256.8" width="4.6" height="4.6"/>
<rect x="264.4" y="271.4" width="4.6" height="4.6"/>
<rect x="272" y="281.5" width="4.6" height="4.6"/>
<rect x="278.8" y="279" width="4.6" height="4.6"/>
<rect x="286.2" y="283.8" width="4.6" height="4.6"/>
<rect x="293.3" y="287.8" width="4.6" height="4.6"/>
<rect x="300.4" y="290.1" width="4.6" height="4.6"/>
<rect x="307.5" y="286.3" width="4.6" height="4.6"/>
<rect x="314.8" y="277.7" width="4.6" height="4.6"/>
<rect x="321.9" y="272.4" width="4.6" height="4.6"/>
<rect x="329.5" y="270.7" width="4.6" height="4.6"/>
<rect x="336.5" y="274.5" width="4.6" height="4.6"/>
<rect x="343.6" y="279" width="4.6" height="4.6"/>
<rect x="351.2" y="285.8" width="4.6" height="4.6"/>
<rect x="358.4" y="286.3" width="4.6" height="4.6"/>
<rect x="365.5" y="284.6" width="4.6" height="4.6"/>
<rect x="372.6" y="284.6" width="4.6" height="4.6"/>
</g>
<g fill="none" stroke="#0000ff" stroke-width="0.72">
<path d="M171.6 305.8h6 M174.6 302.8v6 M172.48 303.68l4.24 4.24 M172.48 307.92l4.24 -4.24"/>
<path d="M178.9 310.4h6 M181.9 307.4v6 M179.78 308.28l4.24 4.24 M179.78 312.52l4.24 -4.24"/>
<path d="M186.5 300.8h6 M189.5 297.8v6 M187.38 298.68l4.24 4.24 M187.38 302.92l4.24 -4.24"/>
<path d="M377.4 289.4h6 M380.4 286.4v6 M378.28 287.28l4.24 4.24 M378.28 291.52l4.24 -4.24"/>
<path d="M384.5 303.3h6 M387.5 300.3v6 M385.38 301.18l4.24 4.24 M385.38 305.42l4.24 -4.24"/>
<path d="M392.1 312.9h6 M395.1 309.9v6 M392.98 310.78l4.24 4.24 M392.98 315.02l4.24 -4.24"/>
</g>
<polyline points="173.1,291.1 178.81,296.9 184.51,293.41 190.22,296.85 195.93,308.16 201.64,307.31 207.34,306.11 213.05,304.51 218.76,302.91 224.47,300.71 230.18,298.01 235.88,295.81 241.59,293.9 247.3,292.2 253,290.8 258.71,289.6 264.42,288.6 270.13,287.8 275.83,287.2 281.54,286.9 287.25,286.8 292.96,287 298.66,287.4 304.37,287.81 310.08,288.82 315.79,289.92 321.5,291.33 327.2,292.83 332.91,294.63 338.62,296.44 344.32,298.25 350.03,300.35 355.74,302.34 361.45,304.15 367.15,305.95 372.86,307.63 378.57,308.45 384.28,296.93 389.99,292.04 395.69,296.09 401.4,289.4" fill="none" stroke="#111" stroke-width="0.9" stroke-linejoin="round" />
<g fill="none" stroke="#111" stroke-width="1.05">
<circle cx="173.1" cy="291.1" r="2.9"/>
<circle cx="178.81" cy="296.9" r="2.9"/>
<circle cx="184.51" cy="293.41" r="2.9"/>
<circle cx="190.22" cy="296.85" r="2.9"/>
<circle cx="195.93" cy="308.16" r="2.9"/>
<circle cx="201.64" cy="307.31" r="2.9"/>
<circle cx="207.34" cy="306.11" r="2.9"/>
<circle cx="213.05" cy="304.51" r="2.9"/>
<circle cx="218.76" cy="302.91" r="2.9"/>
<circle cx="224.47" cy="300.71" r="2.9"/>
<circle cx="230.18" cy="298.01" r="2.9"/>
<circle cx="235.88" cy="295.81" r="2.9"/>
<circle cx="241.59" cy="293.9" r="2.9"/>
<circle cx="247.3" cy="292.2" r="2.9"/>
<circle cx="253" cy="290.8" r="2.9"/>
<circle cx="258.71" cy="289.6" r="2.9"/>
<circle cx="264.42" cy="288.6" r="2.9"/>
<circle cx="270.13" cy="287.8" r="2.9"/>
<circle cx="275.83" cy="287.2" r="2.9"/>
<circle cx="281.54" cy="286.9" r="2.9"/>
<circle cx="287.25" cy="286.8" r="2.9"/>
<circle cx="292.96" cy="287" r="2.9"/>
<circle cx="298.66" cy="287.4" r="2.9"/>
<circle cx="304.37" cy="287.81" r="2.9"/>
<circle cx="310.08" cy="288.82" r="2.9"/>
<circle cx="315.79" cy="289.92" r="2.9"/>
<circle cx="321.5" cy="291.33" r="2.9"/>
<circle cx="327.2" cy="292.83" r="2.9"/>
<circle cx="332.91" cy="294.63" r="2.9"/>
<circle cx="338.62" cy="296.44" r="2.9"/>
<circle cx="344.32" cy="298.25" r="2.9"/>
<circle cx="350.03" cy="300.35" r="2.9"/>
<circle cx="355.74" cy="302.34" r="2.9"/>
<circle cx="361.45" cy="304.15" r="2.9"/>
<circle cx="367.15" cy="305.95" r="2.9"/>
<circle cx="372.86" cy="307.63" r="2.9"/>
<circle cx="378.57" cy="308.45" r="2.9"/>
<circle cx="384.28" cy="296.93" r="2.9"/>
<circle cx="389.99" cy="292.04" r="2.9"/>
<circle cx="395.69" cy="296.09" r="2.9"/>
<circle cx="401.4" cy="289.4" r="2.9"/>
</g>
<polyline points="173.1,369.52 178.81,371.63 184.51,372.94 190.22,373.95 195.93,374.86 201.64,375.66 207.34,376.47 213.05,377.07 218.76,377.57 224.47,378.18 230.18,378.58 235.88,379.08 241.59,379.38 247.3,379.79 253,380.19 258.71,380.59 264.42,380.99 270.13,381.35 275.83,381.6 281.54,381.8 287.25,382 292.96,381.8 298.66,381.6 304.37,381.35 310.08,380.99 315.79,380.59 321.5,380.19 327.2,379.79 332.91,379.38 338.62,379.08 344.32,378.58 350.03,378.18 355.74,377.57 361.45,377.07 367.15,376.47 372.86,375.66 378.57,374.86 384.28,373.95 389.99,372.94 395.69,371.63 401.4,369.52" fill="none" stroke="#008000" stroke-width="1.4" stroke-linejoin="round" />
<g fill="none" stroke="#008000" stroke-width="1.15">
<circle cx="173.1" cy="369.52" r="2.25"/>
<circle cx="178.81" cy="371.63" r="2.25"/>
<circle cx="184.51" cy="372.94" r="2.25"/>
<circle cx="190.22" cy="373.95" r="2.25"/>
<circle cx="195.93" cy="374.86" r="2.25"/>
<circle cx="201.64" cy="375.66" r="2.25"/>
<circle cx="207.34" cy="376.47" r="2.25"/>
<circle cx="213.05" cy="377.07" r="2.25"/>
<circle cx="218.76" cy="377.57" r="2.25"/>
<circle cx="224.47" cy="378.18" r="2.25"/>
<circle cx="230.18" cy="378.58" r="2.25"/>
<circle cx="235.88" cy="379.08" r="2.25"/>
<circle cx="241.59" cy="379.38" r="2.25"/>
<circle cx="247.3" cy="379.79" r="2.25"/>
<circle cx="253" cy="380.19" r="2.25"/>
<circle cx="258.71" cy="380.59" r="2.25"/>
<circle cx="264.42" cy="380.99" r="2.25"/>
<circle cx="270.13" cy="381.35" r="2.25"/>
<circle cx="275.83" cy="381.6" r="2.25"/>
<circle cx="281.54" cy="381.8" r="2.25"/>
<circle cx="287.25" cy="382" r="2.25"/>
<circle cx="292.96" cy="381.8" r="2.25"/>
<circle cx="298.66" cy="381.6" r="2.25"/>
<circle cx="304.37" cy="381.35" r="2.25"/>
<circle cx="310.08" cy="380.99" r="2.25"/>
<circle cx="315.79" cy="380.59" r="2.25"/>
<circle cx="321.5" cy="380.19" r="2.25"/>
<circle cx="327.2" cy="379.79" r="2.25"/>
<circle cx="332.91" cy="379.38" r="2.25"/>
<circle cx="338.62" cy="379.08" r="2.25"/>
<circle cx="344.32" cy="378.58" r="2.25"/>
<circle cx="350.03" cy="378.18" r="2.25"/>
<circle cx="355.74" cy="377.57" r="2.25"/>
<circle cx="361.45" cy="377.07" r="2.25"/>
<circle cx="367.15" cy="376.47" r="2.25"/>
<circle cx="372.86" cy="375.66" r="2.25"/>
<circle cx="378.57" cy="374.86" r="2.25"/>
<circle cx="384.28" cy="373.95" r="2.25"/>
<circle cx="389.99" cy="372.94" r="2.25"/>
<circle cx="395.69" cy="371.63" r="2.25"/>
<circle cx="401.4" cy="369.52" r="2.25"/>
</g>
<polyline points="169.2,368.51 173.1,369.52 178.81,371.63 184.51,372.94 190.22,373.95 195.93,374.86 201.64,375.66 207.34,376.47 213.05,377.07 218.76,377.57 224.47,378.18 230.18,378.58 235.88,379.08 241.59,379.38 247.3,379.79 253,380.19 258.71,380.59 264.42,380.99 270.13,381.35 275.83,381.6 281.54,381.8 287.25,382 292.96,381.8 298.66,381.6 304.37,381.35 310.08,380.99 315.79,380.59 321.5,380.19 327.2,379.79 332.91,379.38 338.62,379.08 344.32,378.58 350.03,378.18 355.74,377.57 361.45,377.07 367.15,376.47 372.86,375.66 378.57,374.86 384.28,373.95 389.99,372.94 395.69,371.63 401.4,369.52 404.4,368.51" fill="none" stroke="#ff0000" stroke-width="2.1" stroke-dasharray="7.2 7.19" stroke-linejoin="round" />
<polyline points="169.2,373.75 171.01,374.55 172.82,375.25 174.63,375.87 176.44,376.42 178.25,376.91 180.06,377.35 181.86,377.74 183.67,378.09 185.48,378.41 187.29,378.7 189.1,378.96 190.91,379.2 192.72,379.41 194.53,379.61 196.34,379.79 198.15,379.95 199.96,380.11 201.77,380.24 203.58,380.37 205.38,380.49 207.19,380.6 209,380.7 210.81,380.79 212.62,380.88 214.43,380.96 216.24,381.03 218.05,381.1 219.86,381.16 221.67,381.22 223.48,381.28 225.29,381.33 227.1,381.38 228.9,381.42 230.71,381.46 232.52,381.5 234.33,381.54 236.14,381.57 237.95,381.6 239.76,381.63 241.57,381.66 243.38,381.68 245.19,381.7 247,381.72 248.81,381.74 250.62,381.76 252.42,381.78 254.23,381.79 256.04,381.81 257.85,381.82 259.66,381.83 261.47,381.84 263.28,381.85 265.09,381.86 266.9,381.87 268.71,381.87 270.52,381.88 272.33,381.88 274.14,381.89 275.94,381.89 277.75,381.89 279.56,381.9 281.37,381.9 283.18,381.9 284.99,381.9 286.8,381.9 288.61,381.9 290.42,381.9 292.23,381.9 294.04,381.9 295.85,381.89 297.66,381.89 299.46,381.89 301.27,381.88 303.08,381.88 304.89,381.87 306.7,381.87 308.51,381.86 310.32,381.85 312.13,381.84 313.94,381.83 315.75,381.82 317.56,381.81 319.37,381.79 321.18,381.78 322.98,381.76 324.79,381.74 326.6,381.72 328.41,381.7 330.22,381.68 332.03,381.66 333.84,381.63 335.65,381.6 337.46,381.57 339.27,381.54 341.08,381.5 342.89,381.46 344.7,381.42 346.5,381.38 348.31,381.33 350.12,381.28 351.93,381.22 353.74,381.16 355.55,381.1 357.36,381.03 359.17,380.96 360.98,380.88 362.79,380.79 364.6,380.7 366.41,380.6 368.22,380.49 370.02,380.37 371.83,380.24 373.64,380.11 375.45,379.95 377.26,379.79 379.07,379.61 380.88,379.41 382.69,379.2 384.5,378.96 386.31,378.7 388.12,378.41 389.93,378.09 391.74,377.74 393.54,377.35 395.35,376.91 397.16,376.42 398.97,375.87 400.78,375.25 402.59,374.55 404.4,373.75" fill="none" stroke="#00bfbf" stroke-width="1.9" stroke-dasharray="1.6 1.8" stroke-linejoin="round" />
<polyline points="169.2,355.73 404.4,355.73" fill="none" stroke="#bf00bf" stroke-width="2.0" stroke-dasharray="6.9 2.5 2.4 2.5" stroke-linejoin="round" stroke-dashoffset="0"/>
<polyline points="173.1,285.32 178.81,291.23 184.51,287.85 190.22,291.41 195.93,302.83 201.64,302.11 207.34,301.34 213.05,300.12 218.76,298.79 224.47,296.83 230.18,294.22 235.88,292.11 241.59,290.3 247.3,288.63 253,287.25 258.71,286.07 264.42,285.1 270.13,284.32 275.83,283.75 281.54,283.48 287.25,283.4 292.96,283.58 298.66,283.95 304.37,284.34 310.08,285.31 315.79,286.39 321.5,287.77 327.2,289.25 332.91,291.02 338.62,292.73 344.32,294.44 350.03,296.44 355.74,298.18 361.45,299.71 367.15,301.11 372.86,302.41 378.57,303.11 384.28,291.47 389.99,287.02 395.69,290.41 401.4,283.61" fill="none" stroke="#00ffff" stroke-width="2.3" stroke-linejoin="round" />
<text x="165.8" y="384.8" font-size="9.2" text-anchor="end" textLength="4.3" lengthAdjust="spacingAndGlyphs" >0</text>
<text x="165.8" y="358.63" font-size="9.2" text-anchor="end" textLength="16.3" lengthAdjust="spacingAndGlyphs" >0.01</text>
<text x="165.8" y="332.47" font-size="9.2" text-anchor="end" textLength="16.3" lengthAdjust="spacingAndGlyphs" >0.02</text>
<text x="165.8" y="306.3" font-size="9.2" text-anchor="end" textLength="16.3" lengthAdjust="spacingAndGlyphs" >0.03</text>
<text x="165.8" y="280.13" font-size="9.2" text-anchor="end" textLength="16.3" lengthAdjust="spacingAndGlyphs" >0.04</text>
<text x="165.8" y="253.97" font-size="9.2" text-anchor="end" textLength="16.3" lengthAdjust="spacingAndGlyphs" >0.05</text>
<text x="165.8" y="227.8" font-size="9.2" text-anchor="end" textLength="16.3" lengthAdjust="spacingAndGlyphs" >0.06</text>
<text x="169.2" y="393.2" font-size="9.2" text-anchor="middle" textLength="12.2" lengthAdjust="spacingAndGlyphs" >-65</text>
<text x="206.88" y="393.2" font-size="9.2" text-anchor="middle" textLength="8.8" lengthAdjust="spacingAndGlyphs" >45</text>
<text x="243.07" y="393.2" font-size="9.2" text-anchor="middle" textLength="8.8" lengthAdjust="spacingAndGlyphs" >25</text>
<text x="286.8" y="393.2" font-size="9.2" text-anchor="middle" textLength="4.3" lengthAdjust="spacingAndGlyphs" >0</text>
<text x="332.03" y="393.2" font-size="9.2" text-anchor="middle" textLength="8.8" lengthAdjust="spacingAndGlyphs" >25</text>
<text x="368.22" y="393.2" font-size="9.2" text-anchor="middle" textLength="8.8" lengthAdjust="spacingAndGlyphs" >45</text>
<text x="404.4" y="393.2" font-size="9.2" text-anchor="middle" textLength="8.8" lengthAdjust="spacingAndGlyphs" >65</text>
</svg></body></html>
